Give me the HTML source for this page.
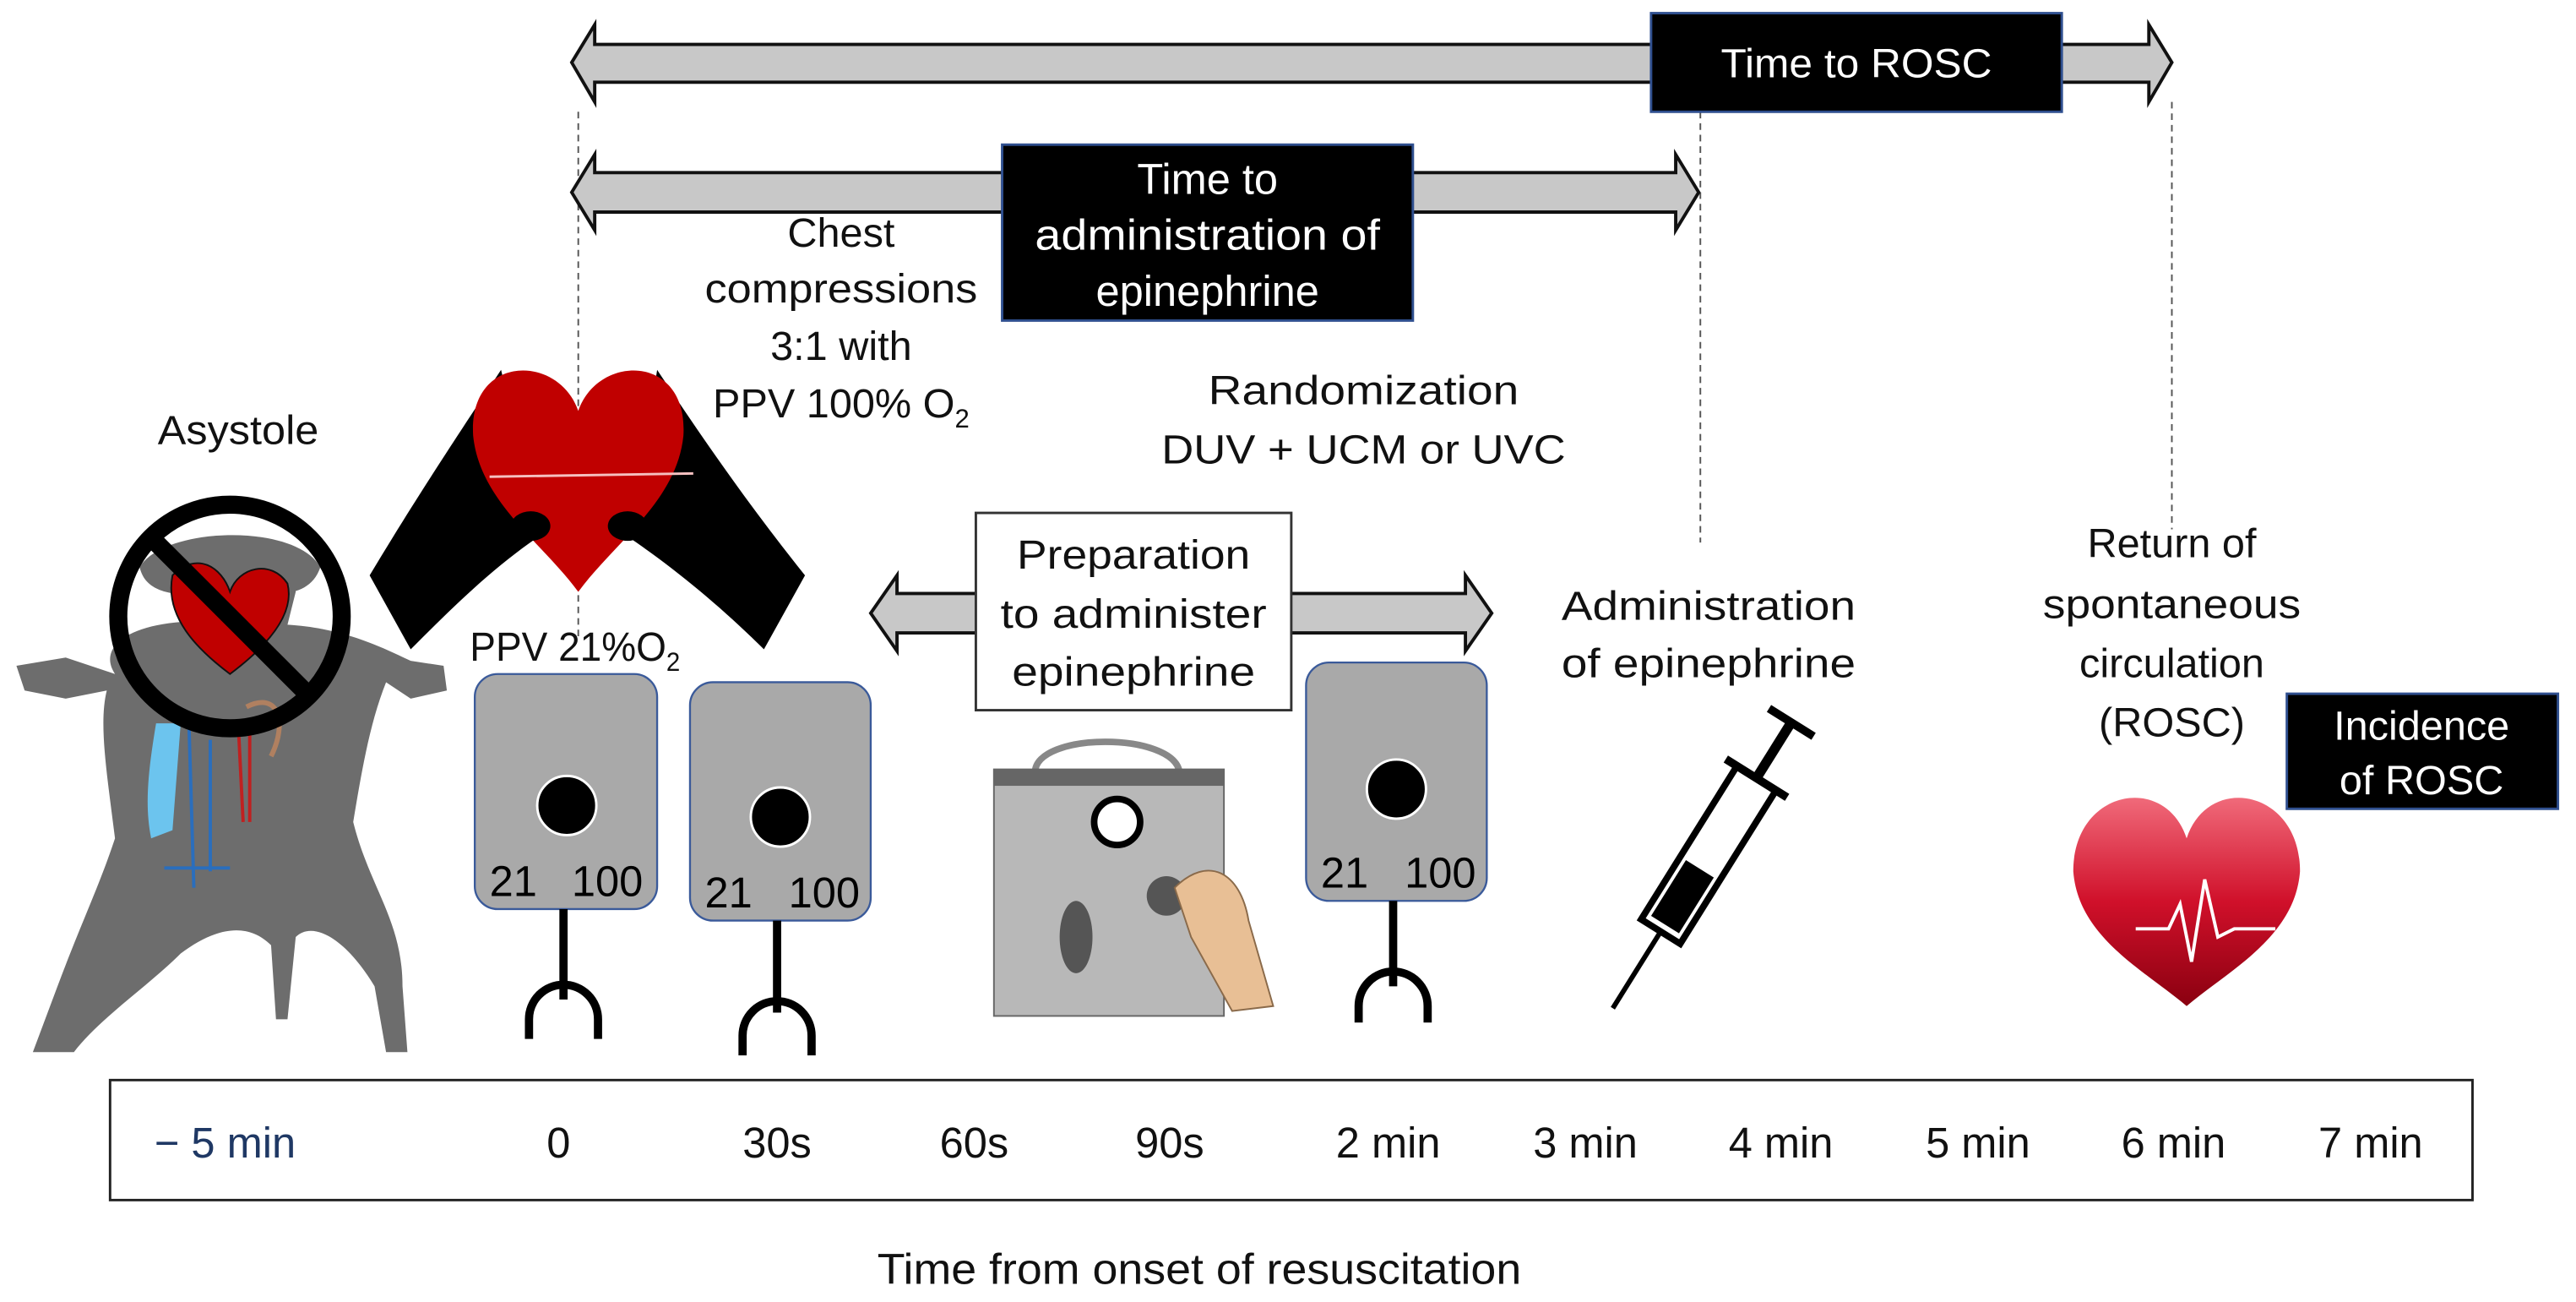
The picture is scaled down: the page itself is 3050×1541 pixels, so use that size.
<!DOCTYPE html>
<html><head><meta charset="utf-8"><style>
html,body{margin:0;padding:0;background:#fff;}
svg{display:block;}
text{font-family:"Liberation Sans",sans-serif;}
</style></head><body>
<svg width="3050" height="1541" viewBox="0 0 1568 792" preserveAspectRatio="none" xmlns="http://www.w3.org/2000/svg">
<defs>
<linearGradient id="hg" x1="0" y1="0" x2="0" y2="1"><stop offset="0" stop-color="#f06a7a"/><stop offset="0.5" stop-color="#d0102a"/><stop offset="1" stop-color="#8a0010"/></linearGradient>
</defs>
<g stroke="#555" stroke-width="1" stroke-dasharray="4,3">
<line x1="352" y1="68" x2="352" y2="390"/>
<line x1="1035" y1="68" x2="1035" y2="330"/>
<line x1="1322" y1="62" x2="1322" y2="322"/>
</g>
<polygon points="348,38 362,15 362,27 1308,27 1308,15 1322,38 1308,62 1308,50 362,50 362,62" fill="#c8c8c8" stroke="#111" stroke-width="2"/>
<rect x="1005" y="8" width="250" height="60" fill="#000" stroke="#2f4f8f" stroke-width="1.5"/>
<text x="1130" y="47" font-size="25" fill="#fff" text-anchor="middle" textLength="165" lengthAdjust="spacingAndGlyphs">Time to ROSC</text>
<polygon points="348,117 362,94 362,105 1020,105 1020,94 1034,117 1020,140 1020,129 362,129 362,140" fill="#c8c8c8" stroke="#111" stroke-width="2"/>
<rect x="610" y="88" width="250" height="107" fill="#000" stroke="#2f4f8f" stroke-width="1.5"/>
<g font-size="26" fill="#fff" text-anchor="middle">
<text x="735" y="118">Time to</text><text x="735" y="152" textLength="210" lengthAdjust="spacingAndGlyphs">administration of</text><text x="735" y="186">epinephrine</text></g>
<g font-size="25" fill="#111" text-anchor="middle">
<text x="512" y="150">Chest</text><text x="512" y="184" textLength="166" lengthAdjust="spacingAndGlyphs">compressions</text><text x="512" y="219">3:1 with</text>
<text x="512" y="254">PPV 100% O<tspan font-size="16" dy="6">2</tspan></text>
<text x="830" y="246" textLength="189" lengthAdjust="spacingAndGlyphs">Randomization</text><text x="830" y="282" textLength="246" lengthAdjust="spacingAndGlyphs">DUV + UCM or UVC</text>
<text x="145" y="270" textLength="98" lengthAdjust="spacingAndGlyphs">Asystole</text>
<text x="350" y="402" textLength="128" lengthAdjust="spacingAndGlyphs">PPV 21%O<tspan font-size="16" dy="6">2</tspan></text>
<text x="1040" y="377" textLength="179" lengthAdjust="spacingAndGlyphs">Administration</text><text x="1040" y="412" textLength="179" lengthAdjust="spacingAndGlyphs">of epinephrine</text>
<text x="1322" y="339">Return of</text><text x="1322" y="376" textLength="157" lengthAdjust="spacingAndGlyphs">spontaneous</text><text x="1322" y="412">circulation</text><text x="1322" y="448">(ROSC)</text>
</g>
<polygon points="530,373 546,350 546,361 892,361 892,350 908,373 892,396 892,385 546,385 546,396" fill="#c8c8c8" stroke="#111" stroke-width="2"/>
<rect x="594" y="312" width="192" height="120" fill="#fff" stroke="#333" stroke-width="1.5"/>
<g font-size="25" fill="#111" text-anchor="middle">
<text x="690" y="346" textLength="142" lengthAdjust="spacingAndGlyphs">Preparation</text><text x="690" y="382" textLength="162" lengthAdjust="spacingAndGlyphs">to administer</text><text x="690" y="417" textLength="148" lengthAdjust="spacingAndGlyphs">epinephrine</text></g>
<rect x="1392" y="422" width="165" height="70" fill="#000" stroke="#2f4f8f" stroke-width="1.5"/>
<g font-size="25" fill="#fff" text-anchor="middle"><text x="1474" y="450">Incidence</text><text x="1474" y="483">of ROSC</text></g>
<!-- pig -->
<path d="M70,410 C60,395 75,380 115,378 L110,360 C100,340 180,335 180,360 L175,380 C210,382 235,395 250,402 L270,405 L272,420 L250,425 L235,415 C225,440 220,470 215,500 C225,540 245,560 245,600 L248,640 L235,640 L228,600 C210,570 190,560 180,570 L175,620 L168,620 L165,575 C150,560 130,565 110,580 C90,600 60,620 45,640 L20,640 L35,600 C50,560 60,540 70,510 C65,470 60,440 65,420 L40,425 L15,420 L10,405 L40,400 Z" fill="#6d6d6d"/>
<path d="M85,345 C100,320 180,318 195,345 C190,360 175,362 165,360 L120,362 C100,362 88,358 85,345 Z" fill="#6d6d6d"/>
<path d="M95,440 C90,470 88,490 92,510 L105,505 L110,440 Z" fill="#6cc4ee"/>
<path d="M115,440 L118,540 M128,450 L128,530 M100,528 L140,528" stroke="#2a6ebd" stroke-width="2" fill="none"/>
<path d="M145,440 L148,500 M152,440 L152,500" stroke="#c02020" stroke-width="2"/>
<path d="M150,430 C170,420 175,440 165,460" stroke="#b08060" stroke-width="3" fill="none"/>
<path d="M105,350 C120,335 135,345 140,360 C145,345 165,340 175,355 C180,375 160,395 140,410 C120,395 100,375 105,350 Z" fill="#c00000" stroke="#111"/>
<circle cx="140" cy="375" r="68" fill="none" stroke="#000" stroke-width="11"/>
<line x1="92" y1="327" x2="188" y2="423" stroke="#000" stroke-width="11"/>
<!-- hands & heart -->
<path d="M305,225 C285,255 255,300 225,350 L250,395 C275,370 300,345 330,325 L320,290 Z" fill="#000"/>
<path d="M400,225 C420,255 450,300 490,350 L465,395 C440,370 410,345 380,325 L390,290 Z" fill="#000"/>
<path d="M352,250 C340,215 285,215 288,265 C292,305 330,330 352,360 C374,330 412,305 416,265 C419,215 364,215 352,250 Z" fill="#c00000"/>
<line x1="298" y1="290" x2="422" y2="288" stroke="#f5c0c0" stroke-width="1.5"/>
<ellipse cx="323" cy="320" rx="12" ry="9" fill="#000"/><ellipse cx="382" cy="320" rx="12" ry="9" fill="#000"/>
<g stroke="#3a5a9a" stroke-width="1.2" fill="#a9a9a9">
<rect x="289" y="410" width="111" height="143" rx="14"/>
<rect x="420" y="415" width="110" height="145" rx="14"/>
<rect x="795" y="403" width="110" height="145" rx="14"/>
</g>
<g fill="#000" stroke="#fff" stroke-width="1.5">
<circle cx="345" cy="490" r="18"/><circle cx="475" cy="497" r="18"/><circle cx="850" cy="480" r="18"/>
</g>
<g font-size="26" fill="#000"><text x="298" y="545">21</text><text x="348" y="545">100</text>
<text x="429" y="552">21</text><text x="480" y="552">100</text>
<text x="804" y="540">21</text><text x="855" y="540">100</text></g>
<g stroke="#000" stroke-width="5" fill="none">
<line x1="343" y1="553" x2="343" y2="608"/><path d="M322,632 L322,620 A21,21 0 0 1 364,620 L364,632"/>
<line x1="473" y1="560" x2="473" y2="616"/><path d="M452,642 L452,630 A21,21 0 0 1 494,630 L494,642"/>
<line x1="848" y1="548" x2="848" y2="600"/><path d="M827,622 L827,612 A21,21 0 0 1 869,612 L869,622"/>
</g>
<path d="M630,470 C630,445 715,445 718,470" stroke="#888" stroke-width="4" fill="none"/>
<rect x="605" y="468" width="140" height="150" fill="#b8b8b8" stroke="#666"/>
<rect x="605" y="468" width="140" height="10" fill="#666"/>
<circle cx="680" cy="500" r="14" fill="#fff" stroke="#000" stroke-width="4"/>
<ellipse cx="655" cy="570" rx="10" ry="22" fill="#555"/>
<circle cx="710" cy="545" r="12" fill="#555"/>
<path d="M715,540 C735,520 755,530 760,560 L775,612 L750,615 L725,570 Z" fill="#e8bf95" stroke="#8a6a4a"/>
<g transform="translate(1040,520) rotate(-58)">
<rect x="-55" y="-14" width="110" height="28" fill="#fff" stroke="#000" stroke-width="4"/>
<rect x="-50" y="-10" width="40" height="20" fill="#000"/>
<line x1="-55" y1="0" x2="-110" y2="0" stroke="#000" stroke-width="3"/>
<line x1="55" y1="0" x2="95" y2="0" stroke="#000" stroke-width="6"/>
<line x1="95" y1="-16" x2="95" y2="16" stroke="#000" stroke-width="5"/>
<line x1="55" y1="-22" x2="55" y2="22" stroke="#000" stroke-width="5"/>
</g>
<path d="M1331,510 C1318,470 1262,480 1262,530 C1265,570 1305,590 1331,612 C1357,590 1397,570 1400,530 C1400,480 1344,470 1331,510 Z" fill="url(#hg)"/>
<polyline points="1300,565 1320,565 1327,550 1334,585 1342,535 1350,570 1360,565 1385,565" fill="none" stroke="#fff" stroke-width="2"/>
<rect x="67" y="657" width="1438" height="73" fill="#fff" stroke="#222" stroke-width="1.5"/>
<g font-size="26" fill="#111" text-anchor="middle">
<text x="137" y="704" fill="#1f3864">− 5 min</text>
<text x="340" y="704">0</text><text x="473" y="704">30s</text><text x="593" y="704">60s</text><text x="712" y="704">90s</text>
<text x="845" y="704">2 min</text><text x="965" y="704">3 min</text><text x="1084" y="704">4 min</text><text x="1204" y="704">5 min</text><text x="1323" y="704">6 min</text><text x="1443" y="704">7 min</text>
<text x="730" y="781" textLength="392" lengthAdjust="spacingAndGlyphs">Time from onset of resuscitation</text>
</g>
</svg>
</body></html>
